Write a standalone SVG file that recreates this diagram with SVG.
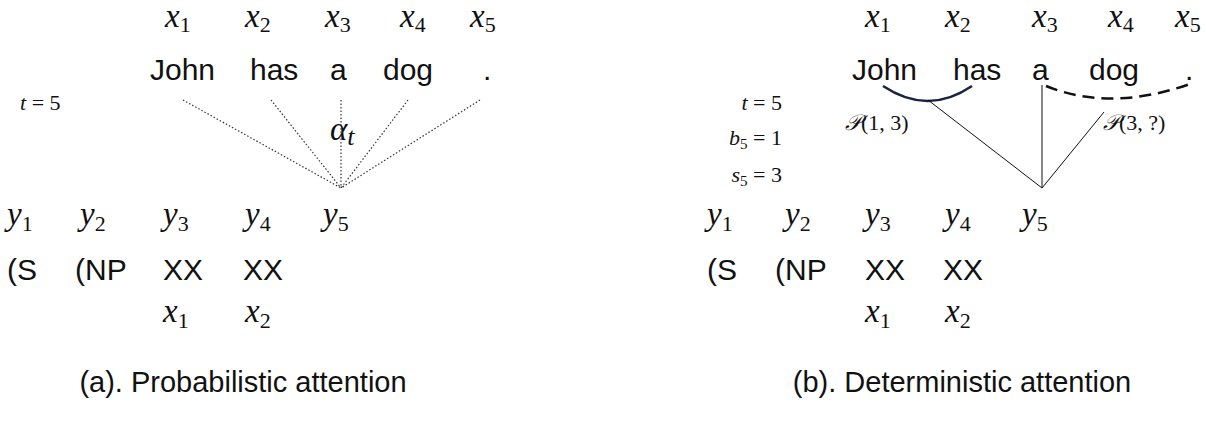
<svg xmlns="http://www.w3.org/2000/svg" width="1206" height="424" viewBox="0 0 1206 424">
<style>
.m{font-family:"Liberation Serif",serif;font-style:italic;font-size:33px;fill:#111}
.ms{font-family:"Liberation Serif",serif;font-size:22px;fill:#111}
.w{font-family:"Liberation Sans",sans-serif;font-size:30px;fill:#111}
.c{font-family:"Liberation Sans",sans-serif;font-size:29px;fill:#111;text-anchor:middle}
.d{stroke:#333;stroke-width:1.2;stroke-dasharray:1.5 2;fill:none}
.s{stroke:#111;stroke-width:1;fill:none}
</style>
<rect width="1206" height="424" fill="#fff"/>
<g id="panel-a">
<g id="a-x"><text class="m" x="165" y="27">x<tspan font-size="22" dy="5" font-style="normal">1</tspan></text><text class="m" x="245" y="27">x<tspan font-size="22" dy="5" font-style="normal">2</tspan></text><text class="m" x="325" y="27">x<tspan font-size="22" dy="5" font-style="normal">3</tspan></text><text class="m" x="400" y="27">x<tspan font-size="22" dy="5" font-style="normal">4</tspan></text><text class="m" x="470" y="27">x<tspan font-size="22" dy="5" font-style="normal">5</tspan></text></g>
<g id="a-words"><text class="w" x="150" y="80">John</text><text class="w" x="250" y="80">has</text><text class="w" x="330" y="80">a</text><text class="w" x="383" y="80">dog</text><text class="w" x="483" y="80">.</text></g>
<text class="ms" x="20" y="110"><tspan font-style="italic">t</tspan> = 5</text>
<text class="m" x="330" y="140" font-size="36">α<tspan font-size="26" dy="5">t</tspan></text>
<g id="a-y"><text class="m" x="7" y="225">y<tspan font-size="22" dy="6" font-style="normal">1</tspan></text><text class="m" x="80" y="225">y<tspan font-size="22" dy="6" font-style="normal">2</tspan></text><text class="m" x="163" y="225">y<tspan font-size="22" dy="6" font-style="normal">3</tspan></text><text class="m" x="245" y="225">y<tspan font-size="22" dy="6" font-style="normal">4</tspan></text><text class="m" x="323" y="225">y<tspan font-size="22" dy="6" font-style="normal">5</tspan></text></g>
<g id="a-tree"><text class="w" x="7" y="280">(S</text><text class="w" x="75" y="280">(NP</text><text class="w" x="163" y="280">XX</text><text class="w" x="243" y="280">XX</text></g>
<text class="m" x="163" y="322">x<tspan font-size="22" dy="6" font-style="normal">1</tspan></text><text class="m" x="245" y="322">x<tspan font-size="22" dy="6" font-style="normal">2</tspan></text>
<text class="c" x="243" y="392">(a). Probabilistic attention</text>
</g>
<g id="panel-b">
<g id="b-x"><text class="m" x="865" y="27">x<tspan font-size="22" dy="5" font-style="normal">1</tspan></text><text class="m" x="945" y="27">x<tspan font-size="22" dy="5" font-style="normal">2</tspan></text><text class="m" x="1032" y="27">x<tspan font-size="22" dy="5" font-style="normal">3</tspan></text><text class="m" x="1108" y="27">x<tspan font-size="22" dy="5" font-style="normal">4</tspan></text><text class="m" x="1175" y="27">x<tspan font-size="22" dy="5" font-style="normal">5</tspan></text></g>
<g id="b-words"><text class="w" x="852" y="80">John</text><text class="w" x="953" y="80">has</text><text class="w" x="1032" y="80">a</text><text class="w" x="1089" y="80">dog</text><text class="w" x="1185" y="80">.</text></g>
<g id="b-params" font-family="Liberation Serif,serif" font-size="22" fill="#111" text-anchor="end"><text x="782" y="110"><tspan font-style="italic">t</tspan> = 5</text><text x="782" y="145"><tspan font-style="italic">b</tspan><tspan font-size="15" dy="4">5</tspan><tspan dy="-4"> = 1</tspan></text><text x="782" y="182"><tspan font-style="italic">s</tspan><tspan font-size="15" dy="4">5</tspan><tspan dy="-4"> = 3</tspan></text></g>
<text class="ms" x="845" y="130" font-size="26"><tspan font-style="italic">𝒫</tspan>(1, 3)</text>
<text class="ms" x="1103" y="130" font-size="26"><tspan font-style="italic">𝒫</tspan>(3, ?)</text>
<g id="b-y"><text class="m" x="707" y="225">y<tspan font-size="22" dy="6" font-style="normal">1</tspan></text><text class="m" x="785" y="225">y<tspan font-size="22" dy="6" font-style="normal">2</tspan></text><text class="m" x="865" y="225">y<tspan font-size="22" dy="6" font-style="normal">3</tspan></text><text class="m" x="945" y="225">y<tspan font-size="22" dy="6" font-style="normal">4</tspan></text><text class="m" x="1022" y="225">y<tspan font-size="22" dy="6" font-style="normal">5</tspan></text></g>
<g id="b-tree"><text class="w" x="707" y="280">(S</text><text class="w" x="775" y="280">(NP</text><text class="w" x="865" y="280">XX</text><text class="w" x="943" y="280">XX</text></g>
<text class="m" x="865" y="322">x<tspan font-size="22" dy="6" font-style="normal">1</tspan></text><text class="m" x="945" y="322">x<tspan font-size="22" dy="6" font-style="normal">2</tspan></text>
<text class="c" x="962" y="392">(b). Deterministic attention</text>
</g>
<g id="connectors">
<path class="d" d="M183 100L341 188M271 100L341 188M341 100L341 188M408 100L341 188M480 100L341 188"/>
<path d="M883 86Q928 116 972 86" stroke="#1c2340" stroke-width="2.5" fill="none"/>
<path d="M1046 86Q1110 112 1190 84" stroke="#111" stroke-width="2.5" stroke-dasharray="12 7" fill="none"/>
<path class="s" d="M928 100L1042 188M1042 85L1042 188M1104 112L1042 188"/>
</g>
</svg>
